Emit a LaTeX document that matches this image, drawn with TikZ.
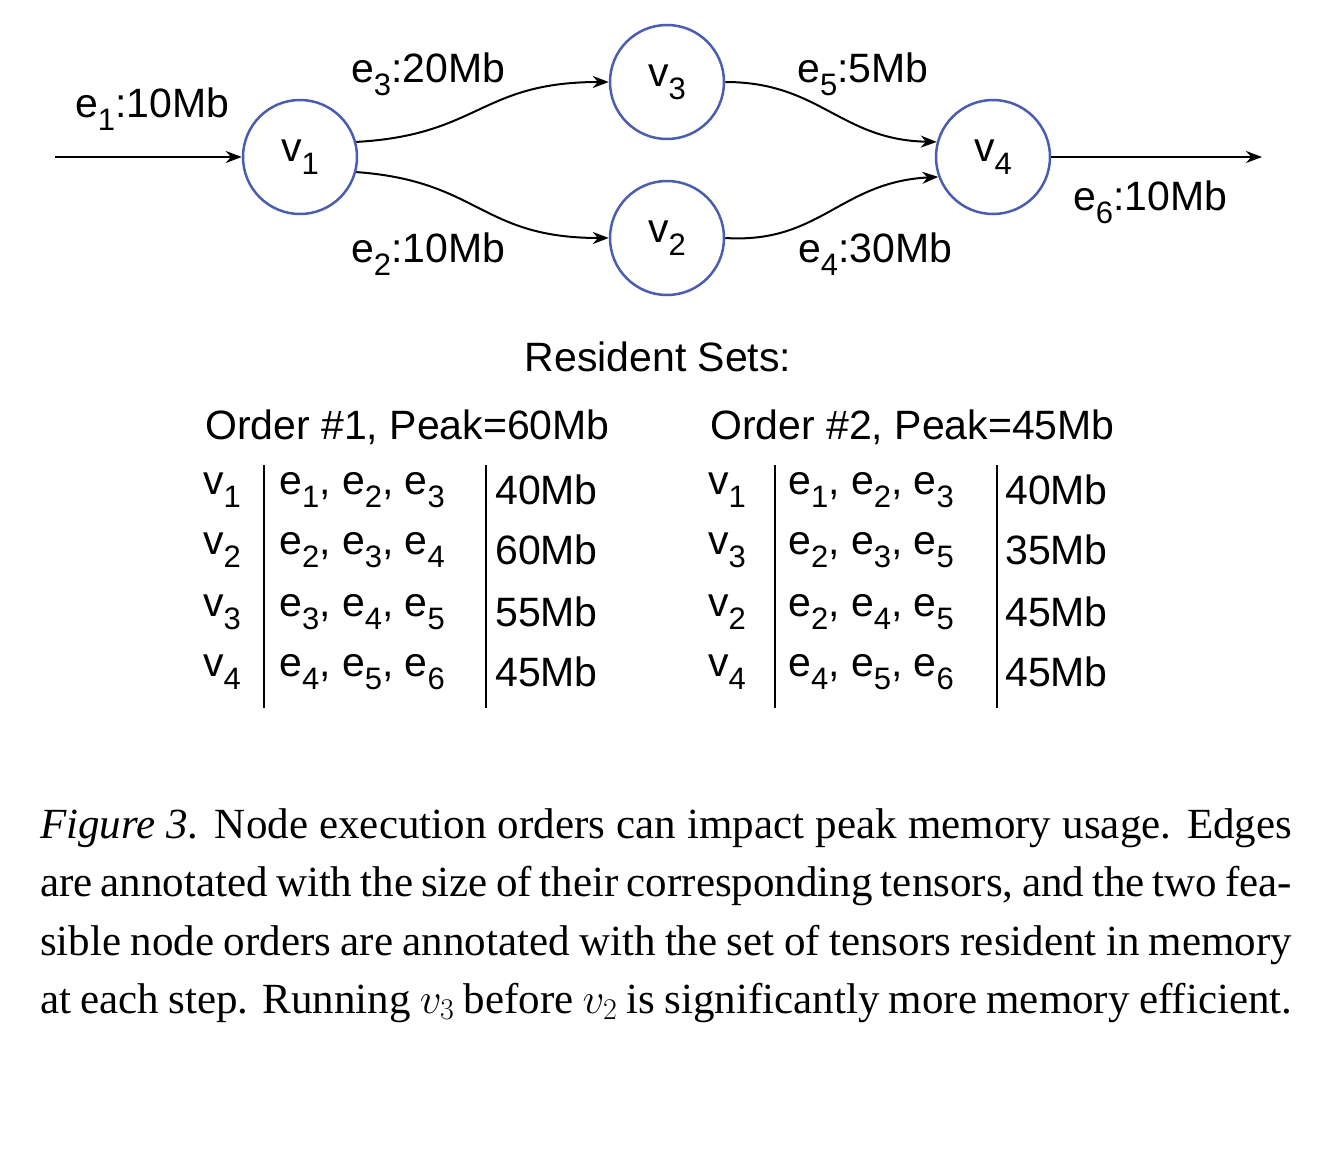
\RequirePackage{fix-cm}
\documentclass[tikz,border=0pt]{standalone}
\usepackage{fontspec}
\setmainfont{Liberation Serif}
\newfontfamily\dsans{Liberation Sans}
\usetikzlibrary{arrows.meta}
\newcommand{\lsub}[1]{\raisebox{-0.6ex}{\fontsize{31}{31}\selectfont #1}}
\definecolor{nodeblue}{HTML}{4A5DB0}
\begin{document}
\begin{tikzpicture}[x=1pt,y=-1pt,
  vert/.style={circle,draw=nodeblue,line width=2.5pt,minimum size=114pt,inner sep=0pt,font=\dsans\fontsize{41}{43}\selectfont},
  lab/.style={font=\dsans\fontsize{41}{43}\selectfont,inner sep=0pt},
  edge/.style={-{Stealth[length=16pt,width=12pt]},line width=2pt},
  vl/.style={line width=2.5pt}]
\useasboundingbox (0,0) rectangle (1344,1150);
\node[vert] (v1) at (300,157) {v\lsub{1}};
\node[vert] (v3) at (667,82) {v\lsub{3}};
\node[vert] (v2) at (667,238) {v\lsub{2}};
\node[vert] (v4) at (993,157) {v\lsub{4}};
\coordinate (in) at (55,157);
\coordinate (out) at (1262,157);
\draw[edge] (in) -- (v1.west);
\draw[edge] (v1.15) .. controls (480,135) and (480,82) .. (v3.west);
\draw[edge] (v1.-15) .. controls (480,181) and (480,238) .. (v2.west);
\draw[edge] (v3.east) .. controls (820,82) and (840,140) .. (v4.165);
\draw[edge] (v2.east) .. controls (820,244) and (840,182) .. (v4.200);
\draw[edge] (v4.east) -- (out);
\node[lab] (l1) at (152,109) {e\lsub{1}:10Mb};
\node[lab] (l3) at (428,74) {e\lsub{3}:20Mb};
\node[lab] (l2) at (428,254) {e\lsub{2}:10Mb};
\node[lab] (l5) at (863,74) {e\lsub{5}:5Mb};
\node[lab] (l4) at (875,254) {e\lsub{4}:30Mb};
\node[lab] (l6) at (1150,202) {e\lsub{6}:10Mb};
\node[lab] (rs) at (658,357) {Resident Sets:};
\node[lab,anchor=west] (o1) at (205,427) {Order \#1, Peak=60Mb};
\node[lab,anchor=west] (o2) at (710,427) {Order \#2, Peak=45Mb};
\foreach \y/\v/\s/\m [count=\i] in {490/1/{e\lsub{1}, e\lsub{2}, e\lsub{3}}/40Mb, 550/2/{e\lsub{2}, e\lsub{3}, e\lsub{4}}/60Mb, 612/3/{e\lsub{3}, e\lsub{4}, e\lsub{5}}/55Mb, 672/4/{e\lsub{4}, e\lsub{5}, e\lsub{6}}/45Mb}{
  \node[lab,anchor=west] (a\i) at (203,\y) {v\lsub{\v}};
  \node[lab,anchor=west] (b\i) at (279,\y) {\s};
  \node[lab,anchor=west] (c\i) at (495,\y) {\m};
}
\foreach \y/\v/\s/\m [count=\i] in {490/1/{e\lsub{1}, e\lsub{2}, e\lsub{3}}/40Mb, 550/3/{e\lsub{2}, e\lsub{3}, e\lsub{5}}/35Mb, 612/2/{e\lsub{2}, e\lsub{4}, e\lsub{5}}/45Mb, 672/4/{e\lsub{4}, e\lsub{5}, e\lsub{6}}/45Mb}{
  \node[lab,anchor=west] (d\i) at (708,\y) {v\lsub{\v}};
  \node[lab,anchor=west] (f\i) at (788,\y) {\s};
  \node[lab,anchor=west] (g\i) at (1005,\y) {\m};
}
\draw[vl] (264,465) -- (264,708);
\draw[vl] (486,465) -- (486,708);
\draw[vl] (775,465) -- (775,708);
\draw[vl] (997,465) -- (997,708);
\node[anchor=north west,inner sep=0pt,text width=1252pt,align=justify,font=\fontsize{43}{58.5}\selectfont] (cap) at (40,808)
{\emph{Figure 3.} Node execution orders can impact peak memory usage. Edges are annotated with the size of their corresponding tensors, and the two feasible node orders are annotated with the set of tensors resident in memory at each step. Running $v_3$ before $v_2$ is significantly more memory efficient.};
\end{tikzpicture}
\end{document}
